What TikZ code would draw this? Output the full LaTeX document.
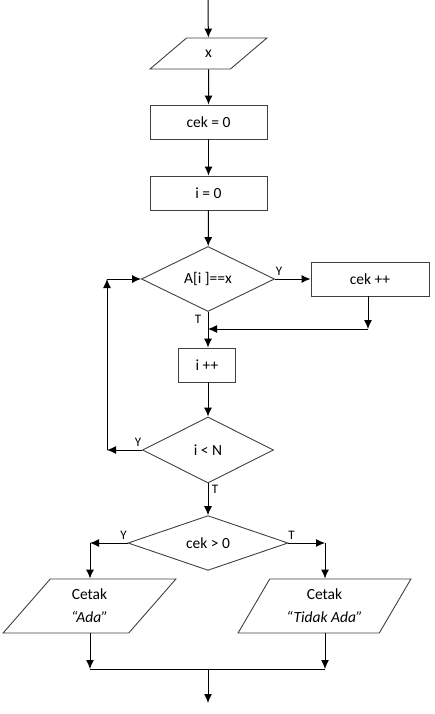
\documentclass[tikz,border=0pt]{standalone}
\usepackage{fontspec}
\setmainfont{Carlito}
\usetikzlibrary{shapes.geometric,arrows.meta}

\begin{document}
\begin{tikzpicture}[x=1pt, y=-1pt, >={Latex[length=9pt,width=8pt]}, line width=1pt,
	font=\fontsize{15.5}{18}\selectfont,
	box/.style={draw=black!75, line width=0.9pt, rectangle, minimum height=34pt, inner sep=0pt},
	io/.style={draw=black!75, line width=0.9pt, trapezium, trapezium stretches=true, trapezium left angle=#1, trapezium right angle=180-#1, inner sep=0pt},
	cond/.style={draw=black!75, line width=0.9pt, diamond, inner sep=0pt},
	lbl/.style={font=\fontsize{13}{15}\selectfont}]
	\useasboundingbox (0,0) rectangle (435,714);
	% input dan inisialisasi
	\coordinate (start) at (208,0);
	\node [io=53, minimum width=117pt, minimum height=31pt] (inx) at (208.5,53.5) {x};
	\node [box, minimum width=117pt] (cek0) at (208.5,122) {cek = 0};
	\node [box, minimum width=117pt] (i0) at (208.5,193) {i = 0};
	% perulangan
	\node [cond, minimum width=133pt, minimum height=65pt] (cmp) at (208,279) {A[i ]==x};
	\node [box, minimum width=118pt] (inc) at (370,279) {cek ++};
	\coordinate (m1) at (368,329);
	\coordinate (m2) at (208,329);
	\node [box, minimum width=57pt] (ipp) at (207,365) {i ++};
	\node [cond, minimum width=131pt, minimum height=66pt] (loop) at (208,450) {i < N};
	\coordinate (l1) at (107,450);
	\coordinate (l2) at (107,279);
	% hasil
	\node [cond, minimum width=160pt, minimum height=49pt] (chk) at (208,543) {cek > 0};
	\coordinate (a1) at (90,543);
	\coordinate (a2) at (325,543);
	\node [io=57, minimum width=173pt, minimum height=54pt, align=center] (ada) at (89.5,606) {Cetak\\[5pt]\textit{“Ada”}};
	\node [io=57, minimum width=173pt, minimum height=54pt, align=center] (tida) at (324.5,606) {Cetak\\[5pt]\textit{“Tidak Ada”}};
	\coordinate (b1) at (90,669);
	\coordinate (b2) at (325,669);
	\coordinate (b3) at (208,669);
	\coordinate (end) at (208,703);

	\draw [->] (start) -- (inx);
	\draw [->] (inx) -- (cek0);
	\draw [->] (cek0) -- (i0);
	\draw [->] (i0) -- (cmp);
	\draw [->] (cmp.east) -- (inc.west) node [lbl, pos=0, above right, xshift=-3pt] {Y};
	\draw [->] (inc.south -| m1) -- (m1);
	\draw [->] (m1) -- (m2);
	\draw [->] (cmp.south) -- (ipp.north -| cmp.south) node [lbl, pos=0.2, left, xshift=-3pt] {T};
	\draw [->] (ipp.south -| loop.north) -- (loop.north);
	\draw [->] (loop.west) -- (l1) node [lbl, pos=0, above left, xshift=3pt] {Y};
	\draw [->] (l1) -- (l2);
	\draw [->] (l2) -- (cmp.west);
	\draw [->] (loop.south) -- (chk.north) node [lbl, pos=0.2, right] {T};
	\draw [->] (chk.west) -- (a1) node [lbl, pos=0, above left, xshift=3pt] {Y};
	\draw [->] (a1) -- (ada.north -| a1);
	\draw [->] (chk.east) -- (a2) node [lbl, pos=0, above right, xshift=-4pt] {T};
	\draw [->] (a2) -- (tida.north -| a2);
	\draw [->] (ada.south -| b1) -- (b1);
	\draw [->] (tida.south -| b2) -- (b2);
	\draw (b1) -- (b2);
	\draw [->] (b3) -- (end);
\end{tikzpicture}
\end{document}
